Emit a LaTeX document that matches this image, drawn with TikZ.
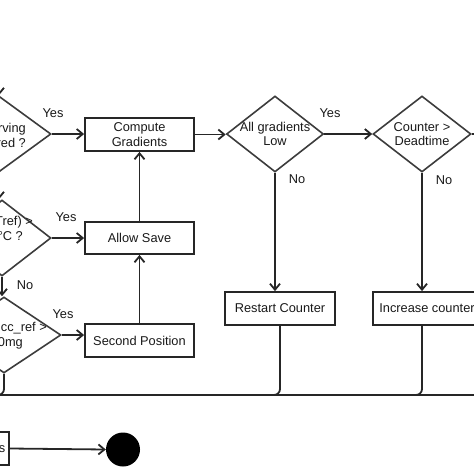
\documentclass[tikz,border=0pt]{standalone}
\usepackage{fontspec}
\setmainfont{Liberation Sans}
\usetikzlibrary{shapes.geometric,arrows.meta}
\definecolor{ink}{HTML}{262626}
\begin{document}
\begin{tikzpicture}[x=1pt,y=-1pt,
  font=\fontsize{12.8}{14.5}\selectfont,
  every node/.style={text=black!90},
  txt/.style={inner sep=0pt},
  box/.style={draw=ink,line width=1.8pt,inner sep=0pt,minimum width=109pt,minimum height=33pt,align=center},
  cond/.style={diamond,draw=ink!90,line width=1.6pt,inner sep=0pt,aspect=1},
  flow/.style={draw=ink,line width=1.8pt},
  arr/.style={flow,-{Straight Barb[length=6pt,width=10pt]}}]
\useasboundingbox (0,0) rectangle (474,474);
\clip (0,0) rectangle (474,474);
% left column of tests
\node[cond,minimum width=104pt,minimum height=76pt] (obs) at (-1,134) {};
\node[txt,anchor=east,align=right] (obstxt) at (26,135.5) {rving\\red ?};
\node[cond,minimum width=98pt,minimum height=76pt] (temp) at (2,238) {};
\node[txt,anchor=east] (tempa) at (33,222) {Tref) >};
\node[txt,anchor=east] (tempb) at (23,236) {°C ?};
\node[cond,minimum width=114pt,minimum height=76pt] (acc) at (4,335) {};
\node[txt,anchor=east] (acca) at (47,328) {cc\_ref >};
\node[txt,anchor=east] (accb) at (23,343) {0mg};
% boxes
\node[box] (grad) at (139.5,134.5) {Compute\\Gradients};
\node[box,minimum height=32pt] (save) at (139.5,238) {Allow Save};
\node[box] (second) at (139.5,340.5) {Second Position};
\node[box,minimum width=110pt] (restart) at (280,308.5) {Restart Counter};
\node[box,minimum width=108pt] (incr) at (427,308.5) {Increase counter};
% right tests
\node[cond,minimum width=97pt,minimum height=76pt] (low) at (275,134) {};
\node[txt,align=center] (lowtxt) at (low) {All gradients\\Low};
\node[cond,minimum width=98pt,minimum height=76pt] (dead) at (422,134) {};
\node[txt,align=center] (deadtxt) at (dead) {Counter >\\Deadtime};
% end
\node[box,minimum width=98pt] (last) at (-40,448.5) {};
\node[txt,anchor=east] (lasttxt) at (5.5,449) {s};
\node[circle,fill=black,minimum size=34pt,inner sep=0pt] (stop) at (123,449.5) {};
% labels
\node[txt] (y1) at (53,113) {Yes};
\node[txt] (y2) at (66,217) {Yes};
\node[txt] (y3) at (63,314) {Yes};
\node[txt] (y4) at (330,113) {Yes};
\node[txt] (n1) at (25,285) {No};
\node[txt] (n2) at (297,179) {No};
\node[txt] (n3) at (444,180) {No};
% free ends
\coordinate (topin) at (-1,60);
\coordinate (deadout) at (480,134);
\coordinate (backR) at (480,395);
\coordinate (backL) at (-10,395);
% connectors
\draw[arr] (topin) -- (obs.north);
\draw[arr] (obs.east) -- (obs.east -| grad.west);
\draw[arr] (obs.south) -- (obs.south |- temp.north);
\draw[arr] (temp.east) -- (temp.east -| save.west);
\draw[arr] (temp.south) -- (temp.south |- acc.north);
\draw[arr] (acc.east) -- (acc.east -| second.west);
\draw[arr] (second.north) -- (save.south);
\draw[arr] (save.north) -- (grad.south);
\draw[arr] (grad.east) -- (grad.east -| low.west);
\draw[arr] (low.east) -- (dead.west);
\draw[arr] (low.south) -- (low.south |- restart.north);
\draw[arr] (dead.south) -- (dead.south |- incr.north);
\draw[flow] (dead.east) -- (deadout);
\draw[flow] (backR) -- (backL);
\draw[flow,rounded corners=6pt] (restart.south) |- (backL);
\draw[flow,rounded corners=6pt] (dead.south |- incr.south) |- (backL);
\draw[flow,rounded corners=6pt] (acc.south) |- (backL);
\draw[arr] (last.east) -- (stop.west);
\end{tikzpicture}
\end{document}
